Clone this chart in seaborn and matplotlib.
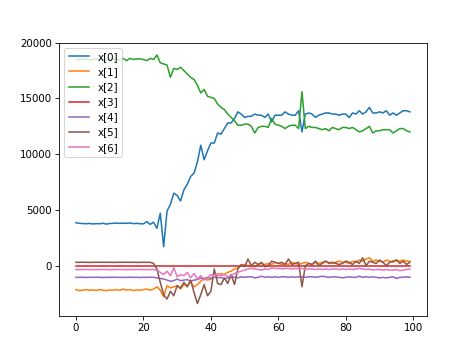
import numpy as np
import pandas as pd
import matplotlib
matplotlib.use("Agg")
import matplotlib.pyplot as plt
import seaborn as sns

steps = list(range(100))

x0 = [3850, 3800, 3780, 3760, 3790, 3740, 3770, 3760, 3800, 3730,
      3780, 3800, 3820, 3790, 3810, 3800, 3830, 3770, 3800, 3760,
      3750, 3950, 3700, 3900, 3350, 4700, 1700, 4900, 5500, 6500,
      6300, 5800, 6800, 7300, 8000, 8300, 9300, 10800, 9500, 10300,
      11000, 11000, 11900, 11800, 12300, 12800, 12800, 13200, 13800, 13600,
      13300, 13400, 13400, 13600, 13500, 13500, 13300, 13600, 12900, 13500,
      13500, 13500, 13800, 13600, 13500, 13500, 13900, 12000, 13600, 13700,
      13600, 13300, 13500, 13600, 13700, 13700, 13600, 13600, 13500, 13600,
      13600, 13300, 13700, 13600, 13900, 13600, 13800, 14200, 13700, 13700,
      13800, 13700, 13900, 13500, 13700, 13500, 13700, 13900, 13900, 13800]

x1 = [-2150, -2250, -2200, -2150, -2200, -2180, -2230, -2150, -2200, -2250,
      -2180, -2200, -2150, -2220, -2100, -2200, -2150, -2250, -2180, -2200,
      -2150, -2100, -2200, -2100, -1900, -2200, -2800, -1800, -2000, -1900,
      -1800, -2100, -1700, -1800, -1500, -1900, -1700, -1400, -1100, -1300,
      -1200, -1000, -900, -700, -800, -600, -500, -300, -200, 0,
      100, 0, 0, -100, 100, 200, 100, 200, 100, 300,
      200, 100, 200, 100, 300, 200, 100, 200, 300, 200,
      100, 300, 200, 300, 400, 300, 200, 300, 400, 300,
      300, 200, 400, 300, 500, 400, 600, 700, 400, 500,
      400, 300, 500, 400, 300, 500, 400, 500, 400, 400]

x2 = [18500, 18500, 18550, 18500, 18450, 18500, 18550, 18500, 18500, 18450,
      18500, 18550, 18500, 18450, 18600, 18400, 18600, 18500, 18550, 18550,
      18500, 18400, 18600, 18500, 18900, 18200, 18100, 18000, 16900, 17700,
      17600, 17800, 17500, 17200, 16900, 16700, 16200, 15500, 15800, 15200,
      15100, 15000, 14500, 14200, 14000, 13600, 13300, 13000, 12600, 12600,
      12700, 12700, 12500, 11900, 12400, 12500, 12500, 12400, 13200, 12700,
      12600, 12500, 12300, 12500, 12600, 12600, 12300, 15600, 12300, 12500,
      12400, 12400, 12300, 12200, 12300, 12100, 12400, 12300, 12200, 12400,
      12400, 12300, 12400, 12200, 12000, 12100, 12300, 12500, 11900, 12100,
      12100, 12200, 12200, 12200, 11900, 12100, 12300, 12300, 12100, 12000]

x3 = [0] * 100

x4 = [-1050, -1050, -1040, -1060, -1050, -1050, -1040, -1050, -1060, -1050,
      -1050, -1040, -1050, -1050, -1060, -1050, -1040, -1050, -1050, -1060,
      -1050, -1050, -1040, -1050, -1100, -1150, -1200, -1300, -1400, -1350,
      -1200, -1350, -1300, -1250, -1400, -1300, -1250, -1100, -1200, -1050,
      -1150, -1000, -1100, -1050, -1200, -1100, -1000, -1050, -1100, -1000,
      -1050, -1000, -1000, -1100, -1050, -950, -1050, -1000, -1050, -1000,
      -1050, -1000, -1000, -1050, -1000, -1050, -1000, -1000, -1050, -1000,
      -1000, -1050, -1000, -950, -1000, -1050, -1000, -1000, -1050, -1100,
      -1050, -1000, -1050, -1050, -950, -1050, -1000, -1050, -1000, -1050,
      -1100, -1050, -1100, -1050, -1000, -1150, -1050, -1050, -1000, -1050]

x5 = [300, 300, 310, 300, 290, 300, 300, 310, 300, 300,
      300, 290, 300, 300, 310, 300, 300, 300, 290, 300,
      300, 300, 300, 200, -300, -1500, -2600, -3000, -2300, -2700,
      -1800, -2000, -1500, -1900, -1300, -2400, -3400, -2600, -1700, -2700,
      -2300, -300, -1600, -1700, -1100, -1600, -800, -1700, -300, 100,
      -100, 600, 0, 300, 100, 300, -100, 0, 400, 300,
      200, 300, 100, 600, 100, 200, 300, -1900, 0, 200,
      100, 400, 0, 200, 400, 200, 300, 200, 100, 200,
      400, 300, 100, 400, 200, 700, 0, 400, 300, 200,
      500, 300, 0, 300, 400, 500, 200, 400, 100, 300]

x6 = [-350, -360, -350, -340, -350, -360, -350, -350, -340, -350,
      -360, -350, -350, -340, -350, -360, -350, -350, -340, -350,
      -350, -360, -350, -350, -400, -600, -800, -500, -900, -200,
      -1000, -800, -900, -600, -1100, -700, -1200, -900, -1300, -1100,
      -800, -1000, -700, -900, -800, -1000, -900, -700, -600, -500,
      -400, -300, -250, -300, -350, -400, -300, -350, -200, -250,
      -250, -300, -250, -250, -300, -250, -300, -250, -350, -300,
      -300, -350, -300, -350, -300, -350, -300, -300, -350, -300,
      -350, -300, -350, -300, -250, -300, -350, -300, -400, -350,
      -350, -400, -350, -400, -400, -350, -450, -400, -350, -300]

series = [x0, x1, x2, x3, x4, x5, x6]
names = [f"x[{i}]" for i in range(7)]

df = pd.concat(
    [pd.DataFrame({"step": steps, "value": s, "series": n}) for s, n in zip(series, names)],
    ignore_index=True,
)

plt.rcParams.update(matplotlib.rcParamsDefault)
fig, ax = plt.subplots(figsize=(474 / 74, 355 / 74), dpi=74)
sns.lineplot(data=df, x="step", y="value", hue="series", palette="tab10",
             ax=ax, linewidth=1.5)
handles, labels = ax.get_legend_handles_labels()
ax.legend(handles, labels, loc="upper left")
ax.set_xlabel("")
ax.set_ylabel("")
ax.set_xticks([0, 20, 40, 60, 80, 100])
ax.set_yticks([0, 5000, 10000, 15000, 20000])
fig.savefig("out.png", dpi=74)
